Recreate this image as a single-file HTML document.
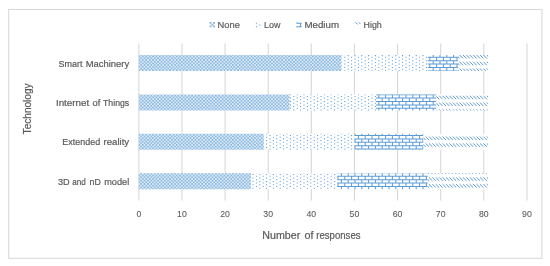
<!DOCTYPE html>
<html lang="en"><head><meta charset="utf-8"><title>Chart</title>
<style>
html,body{margin:0;padding:0;background:#fff;}
body{width:550px;height:266px;overflow:hidden;}
svg{display:block;}
text{font-family:"Liberation Sans",sans-serif;fill:#595959;stroke:#595959;stroke-width:0.2px;}
</style></head><body>
<svg width="550" height="266" viewBox="0 0 550 266">
<defs>
<pattern id="pNone" width="4" height="4" patternUnits="userSpaceOnUse" patternTransform="translate(2.57,1.3) scale(0.85)">
<rect width="4" height="4" fill="#fff"/><rect x="0" y="0" width="1.9" height="1.9" fill="#5b9bd5"/><rect x="2" y="2" width="1.9" height="1.9" fill="#5b9bd5"/></pattern>
<filter id="soft" x="-0.02" y="-0.02" width="1.04" height="1.04" color-interpolation-filters="sRGB"><feConvolveMatrix order="3" kernelMatrix="1 4 1 4 30 4 1 4 1" edgeMode="duplicate" preserveAlpha="false"/></filter>
<clipPath id="cH"><rect x="457.94" y="55.00" width="30.18" height="16.00"/><rect x="436.38" y="94.40" width="51.74" height="16.00"/><rect x="423.44" y="133.80" width="64.68" height="16.00"/><rect x="427.75" y="173.20" width="60.37" height="16.00"/><rect x="355.2" y="22.2" width="5.3" height="5.3"/></clipPath><clipPath id="cN"><rect x="138.85" y="55.00" width="202.66" height="16.00"/><rect x="138.85" y="94.40" width="150.92" height="16.00"/><rect x="138.85" y="133.80" width="125.05" height="16.00"/><rect x="138.85" y="173.20" width="112.11" height="16.00"/></clipPath>
</defs>
<rect x="0" y="0" width="550" height="266" fill="#fff"/>
<rect x="8.7" y="9.5" width="533.2" height="248.8" fill="#fff" stroke="#d9d9d9" stroke-width="1.1"/>

<line x1="138.85" y1="43.4" x2="138.85" y2="200.4" stroke="#d8d8d8" stroke-width="1.1"/>
<line x1="181.97" y1="43.4" x2="181.97" y2="200.4" stroke="#d8d8d8" stroke-width="1.1"/>
<line x1="225.09" y1="43.4" x2="225.09" y2="200.4" stroke="#d8d8d8" stroke-width="1.1"/>
<line x1="268.21" y1="43.4" x2="268.21" y2="200.4" stroke="#d8d8d8" stroke-width="1.1"/>
<line x1="311.33" y1="43.4" x2="311.33" y2="200.4" stroke="#d8d8d8" stroke-width="1.1"/>
<line x1="354.45" y1="43.4" x2="354.45" y2="200.4" stroke="#d8d8d8" stroke-width="1.1"/>
<line x1="397.57" y1="43.4" x2="397.57" y2="200.4" stroke="#d8d8d8" stroke-width="1.1"/>
<line x1="440.69" y1="43.4" x2="440.69" y2="200.4" stroke="#d8d8d8" stroke-width="1.1"/>
<line x1="483.81" y1="43.4" x2="483.81" y2="200.4" stroke="#d8d8d8" stroke-width="1.1"/>
<line x1="526.93" y1="43.4" x2="526.93" y2="200.4" stroke="#d8d8d8" stroke-width="1.1"/>
<g clip-path="url(#cN)"><rect x="136.85" y="53.00" width="206.66" height="20.00" fill="url(#pNone)" filter="url(#soft)"/></g>
<rect x="341.51" y="55.00" width="86.24" height="16.00" fill="#fff"/>
<path fill="#5b9bd5" d="M344.27 56.77h1.05v1.05h-1.05zM344.27 60.17h1.05v1.05h-1.05zM344.27 63.57h1.05v1.05h-1.05zM344.27 66.97h1.05v1.05h-1.05zM344.27 70.37h1.05v0.63h-1.05zM351.07 56.77h1.05v1.05h-1.05zM351.07 60.17h1.05v1.05h-1.05zM351.07 63.57h1.05v1.05h-1.05zM351.07 66.97h1.05v1.05h-1.05zM351.07 70.37h1.05v0.63h-1.05zM357.88 56.77h1.05v1.05h-1.05zM357.88 60.17h1.05v1.05h-1.05zM357.88 63.57h1.05v1.05h-1.05zM357.88 66.97h1.05v1.05h-1.05zM357.88 70.37h1.05v0.63h-1.05zM364.68 56.77h1.05v1.05h-1.05zM364.68 60.17h1.05v1.05h-1.05zM364.68 63.57h1.05v1.05h-1.05zM364.68 66.97h1.05v1.05h-1.05zM364.68 70.37h1.05v0.63h-1.05zM371.48 56.77h1.05v1.05h-1.05zM371.48 60.17h1.05v1.05h-1.05zM371.48 63.57h1.05v1.05h-1.05zM371.48 66.97h1.05v1.05h-1.05zM371.48 70.37h1.05v0.63h-1.05zM378.27 56.77h1.05v1.05h-1.05zM378.27 60.17h1.05v1.05h-1.05zM378.27 63.57h1.05v1.05h-1.05zM378.27 66.97h1.05v1.05h-1.05zM378.27 70.37h1.05v0.63h-1.05zM385.07 56.77h1.05v1.05h-1.05zM385.07 60.17h1.05v1.05h-1.05zM385.07 63.57h1.05v1.05h-1.05zM385.07 66.97h1.05v1.05h-1.05zM385.07 70.37h1.05v0.63h-1.05zM391.88 56.77h1.05v1.05h-1.05zM391.88 60.17h1.05v1.05h-1.05zM391.88 63.57h1.05v1.05h-1.05zM391.88 66.97h1.05v1.05h-1.05zM391.88 70.37h1.05v0.63h-1.05zM398.68 56.77h1.05v1.05h-1.05zM398.68 60.17h1.05v1.05h-1.05zM398.68 63.57h1.05v1.05h-1.05zM398.68 66.97h1.05v1.05h-1.05zM398.68 70.37h1.05v0.63h-1.05zM405.48 56.77h1.05v1.05h-1.05zM405.48 60.17h1.05v1.05h-1.05zM405.48 63.57h1.05v1.05h-1.05zM405.48 66.97h1.05v1.05h-1.05zM405.48 70.37h1.05v0.63h-1.05zM412.27 56.77h1.05v1.05h-1.05zM412.27 60.17h1.05v1.05h-1.05zM412.27 63.57h1.05v1.05h-1.05zM412.27 66.97h1.05v1.05h-1.05zM412.27 70.37h1.05v0.63h-1.05zM419.07 56.77h1.05v1.05h-1.05zM419.07 60.17h1.05v1.05h-1.05zM419.07 63.57h1.05v1.05h-1.05zM419.07 66.97h1.05v1.05h-1.05zM419.07 70.37h1.05v0.63h-1.05zM425.88 56.77h1.05v1.05h-1.05zM425.88 60.17h1.05v1.05h-1.05zM425.88 63.57h1.05v1.05h-1.05zM425.88 66.97h1.05v1.05h-1.05zM425.88 70.37h1.05v0.63h-1.05zM341.51 55.08h0.41v1.05h-0.41zM341.51 58.48h0.41v1.05h-0.41zM341.51 61.88h0.41v1.05h-0.41zM341.51 65.27h0.41v1.05h-0.41zM341.51 68.67h0.41v1.05h-0.41zM347.68 55.08h1.05v1.05h-1.05zM347.68 58.48h1.05v1.05h-1.05zM347.68 61.88h1.05v1.05h-1.05zM347.68 65.27h1.05v1.05h-1.05zM347.68 68.67h1.05v1.05h-1.05zM354.48 55.08h1.05v1.05h-1.05zM354.48 58.48h1.05v1.05h-1.05zM354.48 61.88h1.05v1.05h-1.05zM354.48 65.27h1.05v1.05h-1.05zM354.48 68.67h1.05v1.05h-1.05zM361.28 55.08h1.05v1.05h-1.05zM361.28 58.48h1.05v1.05h-1.05zM361.28 61.88h1.05v1.05h-1.05zM361.28 65.27h1.05v1.05h-1.05zM361.28 68.67h1.05v1.05h-1.05zM368.08 55.08h1.05v1.05h-1.05zM368.08 58.48h1.05v1.05h-1.05zM368.08 61.88h1.05v1.05h-1.05zM368.08 65.27h1.05v1.05h-1.05zM368.08 68.67h1.05v1.05h-1.05zM374.88 55.08h1.05v1.05h-1.05zM374.88 58.48h1.05v1.05h-1.05zM374.88 61.88h1.05v1.05h-1.05zM374.88 65.27h1.05v1.05h-1.05zM374.88 68.67h1.05v1.05h-1.05zM381.68 55.08h1.05v1.05h-1.05zM381.68 58.48h1.05v1.05h-1.05zM381.68 61.88h1.05v1.05h-1.05zM381.68 65.27h1.05v1.05h-1.05zM381.68 68.67h1.05v1.05h-1.05zM388.48 55.08h1.05v1.05h-1.05zM388.48 58.48h1.05v1.05h-1.05zM388.48 61.88h1.05v1.05h-1.05zM388.48 65.27h1.05v1.05h-1.05zM388.48 68.67h1.05v1.05h-1.05zM395.28 55.08h1.05v1.05h-1.05zM395.28 58.48h1.05v1.05h-1.05zM395.28 61.88h1.05v1.05h-1.05zM395.28 65.27h1.05v1.05h-1.05zM395.28 68.67h1.05v1.05h-1.05zM402.08 55.08h1.05v1.05h-1.05zM402.08 58.48h1.05v1.05h-1.05zM402.08 61.88h1.05v1.05h-1.05zM402.08 65.27h1.05v1.05h-1.05zM402.08 68.67h1.05v1.05h-1.05zM408.88 55.08h1.05v1.05h-1.05zM408.88 58.48h1.05v1.05h-1.05zM408.88 61.88h1.05v1.05h-1.05zM408.88 65.27h1.05v1.05h-1.05zM408.88 68.67h1.05v1.05h-1.05zM415.68 55.08h1.05v1.05h-1.05zM415.68 58.48h1.05v1.05h-1.05zM415.68 61.88h1.05v1.05h-1.05zM415.68 65.27h1.05v1.05h-1.05zM415.68 68.67h1.05v1.05h-1.05zM422.48 55.08h1.05v1.05h-1.05zM422.48 58.48h1.05v1.05h-1.05zM422.48 61.88h1.05v1.05h-1.05zM422.48 65.27h1.05v1.05h-1.05zM422.48 68.67h1.05v1.05h-1.05z"/>
<rect x="427.75" y="55.00" width="30.18" height="16.00" fill="#fff"/>
<path fill="#5b9bd5" d="M432.7 55h1v1.8h-1zM439.5 55h1v1.8h-1zM446.3 55h1v1.8h-1zM453.1 55h1v1.8h-1zM427.75 56.8h30.18v1h-30.18zM429.3 57.8h1v2.4h-1zM436.1 57.8h1v2.4h-1zM442.9 57.8h1v2.4h-1zM449.7 57.8h1v2.4h-1zM456.5 57.8h1v2.4h-1zM427.75 60.2h30.18v1h-30.18zM432.7 61.2h1v2.4h-1zM439.5 61.2h1v2.4h-1zM446.3 61.2h1v2.4h-1zM453.1 61.2h1v2.4h-1zM427.75 63.6h30.18v1h-30.18zM429.3 64.6h1v2.4h-1zM436.1 64.6h1v2.4h-1zM442.9 64.6h1v2.4h-1zM449.7 64.6h1v2.4h-1zM456.5 64.6h1v2.4h-1zM427.75 67h30.18v1h-30.18zM432.7 68h1v2.4h-1zM439.5 68h1v2.4h-1zM446.3 68h1v2.4h-1zM453.1 68h1v2.4h-1zM427.75 70.4h30.18v0.6h-30.18z"/>
<rect x="457.94" y="55.00" width="30.18" height="16.00" fill="#fff"/>
<path clip-path="url(#cH)" fill="none" stroke="#5b9bd5" stroke-width="1.0" stroke-linecap="square" d="M456.5 55.3l2.8 2.8M459.9 55.3l2.8 2.8M463.3 55.3l2.8 2.8M466.7 55.3l2.8 2.8M470.1 55.3l2.8 2.8M473.5 55.3l2.8 2.8M476.9 55.3l2.8 2.8M480.3 55.3l2.8 2.8M483.7 55.3l2.8 2.8M487.1 55.3l2.8 2.8M456.5 62.1l2.8 2.8M459.9 62.1l2.8 2.8M463.3 62.1l2.8 2.8M466.7 62.1l2.8 2.8M470.1 62.1l2.8 2.8M473.5 62.1l2.8 2.8M476.9 62.1l2.8 2.8M480.3 62.1l2.8 2.8M483.7 62.1l2.8 2.8M487.1 62.1l2.8 2.8M456.5 68.9l2.8 2.8M459.9 68.9l2.8 2.8M463.3 68.9l2.8 2.8M466.7 68.9l2.8 2.8M470.1 68.9l2.8 2.8M473.5 68.9l2.8 2.8M476.9 68.9l2.8 2.8M480.3 68.9l2.8 2.8M483.7 68.9l2.8 2.8M487.1 68.9l2.8 2.8"/>
<g clip-path="url(#cN)"><rect x="136.85" y="92.40" width="154.92" height="20.00" fill="url(#pNone)" filter="url(#soft)"/></g>
<rect x="289.77" y="94.40" width="86.24" height="16.00" fill="#fff"/>
<path fill="#5b9bd5" d="M289.88 94.4h1.05v0.82h-1.05zM289.88 97.57h1.05v1.05h-1.05zM289.88 100.97h1.05v1.05h-1.05zM289.88 104.38h1.05v1.05h-1.05zM289.88 107.77h1.05v1.05h-1.05zM296.68 94.4h1.05v0.82h-1.05zM296.68 97.57h1.05v1.05h-1.05zM296.68 100.97h1.05v1.05h-1.05zM296.68 104.38h1.05v1.05h-1.05zM296.68 107.77h1.05v1.05h-1.05zM303.48 94.4h1.05v0.82h-1.05zM303.48 97.57h1.05v1.05h-1.05zM303.48 100.97h1.05v1.05h-1.05zM303.48 104.38h1.05v1.05h-1.05zM303.48 107.77h1.05v1.05h-1.05zM310.27 94.4h1.05v0.82h-1.05zM310.27 97.57h1.05v1.05h-1.05zM310.27 100.97h1.05v1.05h-1.05zM310.27 104.38h1.05v1.05h-1.05zM310.27 107.77h1.05v1.05h-1.05zM317.07 94.4h1.05v0.82h-1.05zM317.07 97.57h1.05v1.05h-1.05zM317.07 100.97h1.05v1.05h-1.05zM317.07 104.38h1.05v1.05h-1.05zM317.07 107.77h1.05v1.05h-1.05zM323.88 94.4h1.05v0.82h-1.05zM323.88 97.57h1.05v1.05h-1.05zM323.88 100.97h1.05v1.05h-1.05zM323.88 104.38h1.05v1.05h-1.05zM323.88 107.77h1.05v1.05h-1.05zM330.68 94.4h1.05v0.82h-1.05zM330.68 97.57h1.05v1.05h-1.05zM330.68 100.97h1.05v1.05h-1.05zM330.68 104.38h1.05v1.05h-1.05zM330.68 107.77h1.05v1.05h-1.05zM337.48 94.4h1.05v0.82h-1.05zM337.48 97.57h1.05v1.05h-1.05zM337.48 100.97h1.05v1.05h-1.05zM337.48 104.38h1.05v1.05h-1.05zM337.48 107.77h1.05v1.05h-1.05zM344.27 94.4h1.05v0.82h-1.05zM344.27 97.57h1.05v1.05h-1.05zM344.27 100.97h1.05v1.05h-1.05zM344.27 104.38h1.05v1.05h-1.05zM344.27 107.77h1.05v1.05h-1.05zM351.07 94.4h1.05v0.82h-1.05zM351.07 97.57h1.05v1.05h-1.05zM351.07 100.97h1.05v1.05h-1.05zM351.07 104.38h1.05v1.05h-1.05zM351.07 107.77h1.05v1.05h-1.05zM357.88 94.4h1.05v0.82h-1.05zM357.88 97.57h1.05v1.05h-1.05zM357.88 100.97h1.05v1.05h-1.05zM357.88 104.38h1.05v1.05h-1.05zM357.88 107.77h1.05v1.05h-1.05zM364.68 94.4h1.05v0.82h-1.05zM364.68 97.57h1.05v1.05h-1.05zM364.68 100.97h1.05v1.05h-1.05zM364.68 104.38h1.05v1.05h-1.05zM364.68 107.77h1.05v1.05h-1.05zM371.48 94.4h1.05v0.82h-1.05zM371.48 97.57h1.05v1.05h-1.05zM371.48 100.97h1.05v1.05h-1.05zM371.48 104.38h1.05v1.05h-1.05zM371.48 107.77h1.05v1.05h-1.05zM293.28 95.88h1.05v1.05h-1.05zM293.28 99.27h1.05v1.05h-1.05zM293.28 102.67h1.05v1.05h-1.05zM293.28 106.07h1.05v1.05h-1.05zM293.28 109.47h1.05v0.93h-1.05zM300.08 95.88h1.05v1.05h-1.05zM300.08 99.27h1.05v1.05h-1.05zM300.08 102.67h1.05v1.05h-1.05zM300.08 106.07h1.05v1.05h-1.05zM300.08 109.47h1.05v0.93h-1.05zM306.88 95.88h1.05v1.05h-1.05zM306.88 99.27h1.05v1.05h-1.05zM306.88 102.67h1.05v1.05h-1.05zM306.88 106.07h1.05v1.05h-1.05zM306.88 109.47h1.05v0.93h-1.05zM313.68 95.88h1.05v1.05h-1.05zM313.68 99.27h1.05v1.05h-1.05zM313.68 102.67h1.05v1.05h-1.05zM313.68 106.07h1.05v1.05h-1.05zM313.68 109.47h1.05v0.93h-1.05zM320.48 95.88h1.05v1.05h-1.05zM320.48 99.27h1.05v1.05h-1.05zM320.48 102.67h1.05v1.05h-1.05zM320.48 106.07h1.05v1.05h-1.05zM320.48 109.47h1.05v0.93h-1.05zM327.28 95.88h1.05v1.05h-1.05zM327.28 99.27h1.05v1.05h-1.05zM327.28 102.67h1.05v1.05h-1.05zM327.28 106.07h1.05v1.05h-1.05zM327.28 109.47h1.05v0.93h-1.05zM334.08 95.88h1.05v1.05h-1.05zM334.08 99.27h1.05v1.05h-1.05zM334.08 102.67h1.05v1.05h-1.05zM334.08 106.07h1.05v1.05h-1.05zM334.08 109.47h1.05v0.93h-1.05zM340.88 95.88h1.05v1.05h-1.05zM340.88 99.27h1.05v1.05h-1.05zM340.88 102.67h1.05v1.05h-1.05zM340.88 106.07h1.05v1.05h-1.05zM340.88 109.47h1.05v0.93h-1.05zM347.68 95.88h1.05v1.05h-1.05zM347.68 99.27h1.05v1.05h-1.05zM347.68 102.67h1.05v1.05h-1.05zM347.68 106.07h1.05v1.05h-1.05zM347.68 109.47h1.05v0.93h-1.05zM354.48 95.88h1.05v1.05h-1.05zM354.48 99.27h1.05v1.05h-1.05zM354.48 102.67h1.05v1.05h-1.05zM354.48 106.07h1.05v1.05h-1.05zM354.48 109.47h1.05v0.93h-1.05zM361.28 95.88h1.05v1.05h-1.05zM361.28 99.27h1.05v1.05h-1.05zM361.28 102.67h1.05v1.05h-1.05zM361.28 106.07h1.05v1.05h-1.05zM361.28 109.47h1.05v0.93h-1.05zM368.08 95.88h1.05v1.05h-1.05zM368.08 99.27h1.05v1.05h-1.05zM368.08 102.67h1.05v1.05h-1.05zM368.08 106.07h1.05v1.05h-1.05zM368.08 109.47h1.05v0.93h-1.05zM374.88 95.88h1.05v1.05h-1.05zM374.88 99.27h1.05v1.05h-1.05zM374.88 102.67h1.05v1.05h-1.05zM374.88 106.07h1.05v1.05h-1.05zM374.88 109.47h1.05v0.93h-1.05z"/>
<rect x="376.01" y="94.40" width="60.37" height="16.00" fill="#fff"/>
<path fill="#5b9bd5" d="M376.01 94.4h60.37v0.8h-60.37zM378.3 95.2h1v2.4h-1zM385.1 95.2h1v2.4h-1zM391.9 95.2h1v2.4h-1zM398.7 95.2h1v2.4h-1zM405.5 95.2h1v2.4h-1zM412.3 95.2h1v2.4h-1zM419.1 95.2h1v2.4h-1zM425.9 95.2h1v2.4h-1zM432.7 95.2h1v2.4h-1zM376.01 97.6h60.37v1h-60.37zM381.7 98.6h1v2.4h-1zM388.5 98.6h1v2.4h-1zM395.3 98.6h1v2.4h-1zM402.1 98.6h1v2.4h-1zM408.9 98.6h1v2.4h-1zM415.7 98.6h1v2.4h-1zM422.5 98.6h1v2.4h-1zM429.3 98.6h1v2.4h-1zM436.1 98.6h0.28v2.4h-0.28zM376.01 101h60.37v1h-60.37zM378.3 102h1v2.4h-1zM385.1 102h1v2.4h-1zM391.9 102h1v2.4h-1zM398.7 102h1v2.4h-1zM405.5 102h1v2.4h-1zM412.3 102h1v2.4h-1zM419.1 102h1v2.4h-1zM425.9 102h1v2.4h-1zM432.7 102h1v2.4h-1zM376.01 104.4h60.37v1h-60.37zM381.7 105.4h1v2.4h-1zM388.5 105.4h1v2.4h-1zM395.3 105.4h1v2.4h-1zM402.1 105.4h1v2.4h-1zM408.9 105.4h1v2.4h-1zM415.7 105.4h1v2.4h-1zM422.5 105.4h1v2.4h-1zM429.3 105.4h1v2.4h-1zM436.1 105.4h0.28v2.4h-0.28zM376.01 107.8h60.37v1h-60.37zM378.3 108.8h1v1.6h-1zM385.1 108.8h1v1.6h-1zM391.9 108.8h1v1.6h-1zM398.7 108.8h1v1.6h-1zM405.5 108.8h1v1.6h-1zM412.3 108.8h1v1.6h-1zM419.1 108.8h1v1.6h-1zM425.9 108.8h1v1.6h-1zM432.7 108.8h1v1.6h-1z"/>
<rect x="436.38" y="94.40" width="51.74" height="16.00" fill="#fff"/>
<path clip-path="url(#cH)" fill="none" stroke="#5b9bd5" stroke-width="1.0" stroke-linecap="square" d="M436.1 96.1l2.8 2.8M439.5 96.1l2.8 2.8M442.9 96.1l2.8 2.8M446.3 96.1l2.8 2.8M449.7 96.1l2.8 2.8M453.1 96.1l2.8 2.8M456.5 96.1l2.8 2.8M459.9 96.1l2.8 2.8M463.3 96.1l2.8 2.8M466.7 96.1l2.8 2.8M470.1 96.1l2.8 2.8M473.5 96.1l2.8 2.8M476.9 96.1l2.8 2.8M480.3 96.1l2.8 2.8M483.7 96.1l2.8 2.8M487.1 96.1l2.8 2.8M436.1 102.9l2.8 2.8M439.5 102.9l2.8 2.8M442.9 102.9l2.8 2.8M446.3 102.9l2.8 2.8M449.7 102.9l2.8 2.8M453.1 102.9l2.8 2.8M456.5 102.9l2.8 2.8M459.9 102.9l2.8 2.8M463.3 102.9l2.8 2.8M466.7 102.9l2.8 2.8M470.1 102.9l2.8 2.8M473.5 102.9l2.8 2.8M476.9 102.9l2.8 2.8M480.3 102.9l2.8 2.8M483.7 102.9l2.8 2.8M487.1 102.9l2.8 2.8M436.1 109.7l2.8 2.8M439.5 109.7l2.8 2.8M442.9 109.7l2.8 2.8M446.3 109.7l2.8 2.8M449.7 109.7l2.8 2.8M453.1 109.7l2.8 2.8M456.5 109.7l2.8 2.8M459.9 109.7l2.8 2.8M463.3 109.7l2.8 2.8M466.7 109.7l2.8 2.8M470.1 109.7l2.8 2.8M473.5 109.7l2.8 2.8M476.9 109.7l2.8 2.8M480.3 109.7l2.8 2.8M483.7 109.7l2.8 2.8M487.1 109.7l2.8 2.8"/>
<g clip-path="url(#cN)"><rect x="136.85" y="131.80" width="129.05" height="20.00" fill="url(#pNone)" filter="url(#soft)"/></g>
<rect x="263.90" y="133.80" width="90.55" height="16.00" fill="#fff"/>
<path fill="#5b9bd5" d="M269.48 134.97h1.05v1.05h-1.05zM269.48 138.37h1.05v1.05h-1.05zM269.48 141.78h1.05v1.05h-1.05zM269.48 145.17h1.05v1.05h-1.05zM269.48 148.57h1.05v1.05h-1.05zM276.27 134.97h1.05v1.05h-1.05zM276.27 138.37h1.05v1.05h-1.05zM276.27 141.78h1.05v1.05h-1.05zM276.27 145.17h1.05v1.05h-1.05zM276.27 148.57h1.05v1.05h-1.05zM283.07 134.97h1.05v1.05h-1.05zM283.07 138.37h1.05v1.05h-1.05zM283.07 141.78h1.05v1.05h-1.05zM283.07 145.17h1.05v1.05h-1.05zM283.07 148.57h1.05v1.05h-1.05zM289.88 134.97h1.05v1.05h-1.05zM289.88 138.37h1.05v1.05h-1.05zM289.88 141.78h1.05v1.05h-1.05zM289.88 145.17h1.05v1.05h-1.05zM289.88 148.57h1.05v1.05h-1.05zM296.68 134.97h1.05v1.05h-1.05zM296.68 138.37h1.05v1.05h-1.05zM296.68 141.78h1.05v1.05h-1.05zM296.68 145.17h1.05v1.05h-1.05zM296.68 148.57h1.05v1.05h-1.05zM303.48 134.97h1.05v1.05h-1.05zM303.48 138.37h1.05v1.05h-1.05zM303.48 141.78h1.05v1.05h-1.05zM303.48 145.17h1.05v1.05h-1.05zM303.48 148.57h1.05v1.05h-1.05zM310.27 134.97h1.05v1.05h-1.05zM310.27 138.37h1.05v1.05h-1.05zM310.27 141.78h1.05v1.05h-1.05zM310.27 145.17h1.05v1.05h-1.05zM310.27 148.57h1.05v1.05h-1.05zM317.07 134.97h1.05v1.05h-1.05zM317.07 138.37h1.05v1.05h-1.05zM317.07 141.78h1.05v1.05h-1.05zM317.07 145.17h1.05v1.05h-1.05zM317.07 148.57h1.05v1.05h-1.05zM323.88 134.97h1.05v1.05h-1.05zM323.88 138.37h1.05v1.05h-1.05zM323.88 141.78h1.05v1.05h-1.05zM323.88 145.17h1.05v1.05h-1.05zM323.88 148.57h1.05v1.05h-1.05zM330.68 134.97h1.05v1.05h-1.05zM330.68 138.37h1.05v1.05h-1.05zM330.68 141.78h1.05v1.05h-1.05zM330.68 145.17h1.05v1.05h-1.05zM330.68 148.57h1.05v1.05h-1.05zM337.48 134.97h1.05v1.05h-1.05zM337.48 138.37h1.05v1.05h-1.05zM337.48 141.78h1.05v1.05h-1.05zM337.48 145.17h1.05v1.05h-1.05zM337.48 148.57h1.05v1.05h-1.05zM344.27 134.97h1.05v1.05h-1.05zM344.27 138.37h1.05v1.05h-1.05zM344.27 141.78h1.05v1.05h-1.05zM344.27 145.17h1.05v1.05h-1.05zM344.27 148.57h1.05v1.05h-1.05zM351.07 134.97h1.05v1.05h-1.05zM351.07 138.37h1.05v1.05h-1.05zM351.07 141.78h1.05v1.05h-1.05zM351.07 145.17h1.05v1.05h-1.05zM351.07 148.57h1.05v1.05h-1.05zM266.08 133.8h1.05v0.53h-1.05zM266.08 136.67h1.05v1.05h-1.05zM266.08 140.07h1.05v1.05h-1.05zM266.08 143.47h1.05v1.05h-1.05zM266.08 146.88h1.05v1.05h-1.05zM272.88 133.8h1.05v0.53h-1.05zM272.88 136.67h1.05v1.05h-1.05zM272.88 140.07h1.05v1.05h-1.05zM272.88 143.47h1.05v1.05h-1.05zM272.88 146.88h1.05v1.05h-1.05zM279.68 133.8h1.05v0.53h-1.05zM279.68 136.67h1.05v1.05h-1.05zM279.68 140.07h1.05v1.05h-1.05zM279.68 143.47h1.05v1.05h-1.05zM279.68 146.88h1.05v1.05h-1.05zM286.48 133.8h1.05v0.53h-1.05zM286.48 136.67h1.05v1.05h-1.05zM286.48 140.07h1.05v1.05h-1.05zM286.48 143.47h1.05v1.05h-1.05zM286.48 146.88h1.05v1.05h-1.05zM293.28 133.8h1.05v0.53h-1.05zM293.28 136.67h1.05v1.05h-1.05zM293.28 140.07h1.05v1.05h-1.05zM293.28 143.47h1.05v1.05h-1.05zM293.28 146.88h1.05v1.05h-1.05zM300.08 133.8h1.05v0.53h-1.05zM300.08 136.67h1.05v1.05h-1.05zM300.08 140.07h1.05v1.05h-1.05zM300.08 143.47h1.05v1.05h-1.05zM300.08 146.88h1.05v1.05h-1.05zM306.88 133.8h1.05v0.53h-1.05zM306.88 136.67h1.05v1.05h-1.05zM306.88 140.07h1.05v1.05h-1.05zM306.88 143.47h1.05v1.05h-1.05zM306.88 146.88h1.05v1.05h-1.05zM313.68 133.8h1.05v0.53h-1.05zM313.68 136.67h1.05v1.05h-1.05zM313.68 140.07h1.05v1.05h-1.05zM313.68 143.47h1.05v1.05h-1.05zM313.68 146.88h1.05v1.05h-1.05zM320.48 133.8h1.05v0.53h-1.05zM320.48 136.67h1.05v1.05h-1.05zM320.48 140.07h1.05v1.05h-1.05zM320.48 143.47h1.05v1.05h-1.05zM320.48 146.88h1.05v1.05h-1.05zM327.28 133.8h1.05v0.53h-1.05zM327.28 136.67h1.05v1.05h-1.05zM327.28 140.07h1.05v1.05h-1.05zM327.28 143.47h1.05v1.05h-1.05zM327.28 146.88h1.05v1.05h-1.05zM334.08 133.8h1.05v0.53h-1.05zM334.08 136.67h1.05v1.05h-1.05zM334.08 140.07h1.05v1.05h-1.05zM334.08 143.47h1.05v1.05h-1.05zM334.08 146.88h1.05v1.05h-1.05zM340.88 133.8h1.05v0.53h-1.05zM340.88 136.67h1.05v1.05h-1.05zM340.88 140.07h1.05v1.05h-1.05zM340.88 143.47h1.05v1.05h-1.05zM340.88 146.88h1.05v1.05h-1.05zM347.68 133.8h1.05v0.53h-1.05zM347.68 136.67h1.05v1.05h-1.05zM347.68 140.07h1.05v1.05h-1.05zM347.68 143.47h1.05v1.05h-1.05zM347.68 146.88h1.05v1.05h-1.05z"/>
<rect x="354.45" y="133.80" width="68.99" height="16.00" fill="#fff"/>
<path fill="#5b9bd5" d="M354.5 133.8h1v1.2h-1zM361.3 133.8h1v1.2h-1zM368.1 133.8h1v1.2h-1zM374.9 133.8h1v1.2h-1zM381.7 133.8h1v1.2h-1zM388.5 133.8h1v1.2h-1zM395.3 133.8h1v1.2h-1zM402.1 133.8h1v1.2h-1zM408.9 133.8h1v1.2h-1zM415.7 133.8h1v1.2h-1zM422.5 133.8h0.94v1.2h-0.94zM354.45 135h68.99v1h-68.99zM357.9 136h1v2.4h-1zM364.7 136h1v2.4h-1zM371.5 136h1v2.4h-1zM378.3 136h1v2.4h-1zM385.1 136h1v2.4h-1zM391.9 136h1v2.4h-1zM398.7 136h1v2.4h-1zM405.5 136h1v2.4h-1zM412.3 136h1v2.4h-1zM419.1 136h1v2.4h-1zM354.45 138.4h68.99v1h-68.99zM354.5 139.4h1v2.4h-1zM361.3 139.4h1v2.4h-1zM368.1 139.4h1v2.4h-1zM374.9 139.4h1v2.4h-1zM381.7 139.4h1v2.4h-1zM388.5 139.4h1v2.4h-1zM395.3 139.4h1v2.4h-1zM402.1 139.4h1v2.4h-1zM408.9 139.4h1v2.4h-1zM415.7 139.4h1v2.4h-1zM422.5 139.4h0.94v2.4h-0.94zM354.45 141.8h68.99v1h-68.99zM357.9 142.8h1v2.4h-1zM364.7 142.8h1v2.4h-1zM371.5 142.8h1v2.4h-1zM378.3 142.8h1v2.4h-1zM385.1 142.8h1v2.4h-1zM391.9 142.8h1v2.4h-1zM398.7 142.8h1v2.4h-1zM405.5 142.8h1v2.4h-1zM412.3 142.8h1v2.4h-1zM419.1 142.8h1v2.4h-1zM354.45 145.2h68.99v1h-68.99zM354.5 146.2h1v2.4h-1zM361.3 146.2h1v2.4h-1zM368.1 146.2h1v2.4h-1zM374.9 146.2h1v2.4h-1zM381.7 146.2h1v2.4h-1zM388.5 146.2h1v2.4h-1zM395.3 146.2h1v2.4h-1zM402.1 146.2h1v2.4h-1zM408.9 146.2h1v2.4h-1zM415.7 146.2h1v2.4h-1zM422.5 146.2h0.94v2.4h-0.94zM354.45 148.6h68.99v1h-68.99zM357.9 149.6h1v0.2h-1zM364.7 149.6h1v0.2h-1zM371.5 149.6h1v0.2h-1zM378.3 149.6h1v0.2h-1zM385.1 149.6h1v0.2h-1zM391.9 149.6h1v0.2h-1zM398.7 149.6h1v0.2h-1zM405.5 149.6h1v0.2h-1zM412.3 149.6h1v0.2h-1zM419.1 149.6h1v0.2h-1z"/>
<rect x="423.44" y="133.80" width="64.68" height="16.00" fill="#fff"/>
<path clip-path="url(#cH)" fill="none" stroke="#5b9bd5" stroke-width="1.0" stroke-linecap="square" d="M422.5 136.9l2.8 2.8M425.9 136.9l2.8 2.8M429.3 136.9l2.8 2.8M432.7 136.9l2.8 2.8M436.1 136.9l2.8 2.8M439.5 136.9l2.8 2.8M442.9 136.9l2.8 2.8M446.3 136.9l2.8 2.8M449.7 136.9l2.8 2.8M453.1 136.9l2.8 2.8M456.5 136.9l2.8 2.8M459.9 136.9l2.8 2.8M463.3 136.9l2.8 2.8M466.7 136.9l2.8 2.8M470.1 136.9l2.8 2.8M473.5 136.9l2.8 2.8M476.9 136.9l2.8 2.8M480.3 136.9l2.8 2.8M483.7 136.9l2.8 2.8M487.1 136.9l2.8 2.8M422.5 143.7l2.8 2.8M425.9 143.7l2.8 2.8M429.3 143.7l2.8 2.8M432.7 143.7l2.8 2.8M436.1 143.7l2.8 2.8M439.5 143.7l2.8 2.8M442.9 143.7l2.8 2.8M446.3 143.7l2.8 2.8M449.7 143.7l2.8 2.8M453.1 143.7l2.8 2.8M456.5 143.7l2.8 2.8M459.9 143.7l2.8 2.8M463.3 143.7l2.8 2.8M466.7 143.7l2.8 2.8M470.1 143.7l2.8 2.8M473.5 143.7l2.8 2.8M476.9 143.7l2.8 2.8M480.3 143.7l2.8 2.8M483.7 143.7l2.8 2.8M487.1 143.7l2.8 2.8"/>
<g clip-path="url(#cN)"><rect x="136.85" y="171.20" width="116.11" height="20.00" fill="url(#pNone)" filter="url(#soft)"/></g>
<rect x="250.96" y="173.20" width="86.24" height="16.00" fill="#fff"/>
<path fill="#5b9bd5" d="M255.87 173.2h1.05v0.22h-1.05zM255.87 175.78h1.05v1.05h-1.05zM255.87 179.17h1.05v1.05h-1.05zM255.87 182.57h1.05v1.05h-1.05zM255.87 185.97h1.05v1.05h-1.05zM262.68 173.2h1.05v0.22h-1.05zM262.68 175.78h1.05v1.05h-1.05zM262.68 179.17h1.05v1.05h-1.05zM262.68 182.57h1.05v1.05h-1.05zM262.68 185.97h1.05v1.05h-1.05zM269.48 173.2h1.05v0.22h-1.05zM269.48 175.78h1.05v1.05h-1.05zM269.48 179.17h1.05v1.05h-1.05zM269.48 182.57h1.05v1.05h-1.05zM269.48 185.97h1.05v1.05h-1.05zM276.27 173.2h1.05v0.22h-1.05zM276.27 175.78h1.05v1.05h-1.05zM276.27 179.17h1.05v1.05h-1.05zM276.27 182.57h1.05v1.05h-1.05zM276.27 185.97h1.05v1.05h-1.05zM283.07 173.2h1.05v0.22h-1.05zM283.07 175.78h1.05v1.05h-1.05zM283.07 179.17h1.05v1.05h-1.05zM283.07 182.57h1.05v1.05h-1.05zM283.07 185.97h1.05v1.05h-1.05zM289.88 173.2h1.05v0.22h-1.05zM289.88 175.78h1.05v1.05h-1.05zM289.88 179.17h1.05v1.05h-1.05zM289.88 182.57h1.05v1.05h-1.05zM289.88 185.97h1.05v1.05h-1.05zM296.68 173.2h1.05v0.22h-1.05zM296.68 175.78h1.05v1.05h-1.05zM296.68 179.17h1.05v1.05h-1.05zM296.68 182.57h1.05v1.05h-1.05zM296.68 185.97h1.05v1.05h-1.05zM303.48 173.2h1.05v0.22h-1.05zM303.48 175.78h1.05v1.05h-1.05zM303.48 179.17h1.05v1.05h-1.05zM303.48 182.57h1.05v1.05h-1.05zM303.48 185.97h1.05v1.05h-1.05zM310.27 173.2h1.05v0.22h-1.05zM310.27 175.78h1.05v1.05h-1.05zM310.27 179.17h1.05v1.05h-1.05zM310.27 182.57h1.05v1.05h-1.05zM310.27 185.97h1.05v1.05h-1.05zM317.07 173.2h1.05v0.22h-1.05zM317.07 175.78h1.05v1.05h-1.05zM317.07 179.17h1.05v1.05h-1.05zM317.07 182.57h1.05v1.05h-1.05zM317.07 185.97h1.05v1.05h-1.05zM323.88 173.2h1.05v0.22h-1.05zM323.88 175.78h1.05v1.05h-1.05zM323.88 179.17h1.05v1.05h-1.05zM323.88 182.57h1.05v1.05h-1.05zM323.88 185.97h1.05v1.05h-1.05zM330.68 173.2h1.05v0.22h-1.05zM330.68 175.78h1.05v1.05h-1.05zM330.68 179.17h1.05v1.05h-1.05zM330.68 182.57h1.05v1.05h-1.05zM330.68 185.97h1.05v1.05h-1.05zM252.47 174.07h1.05v1.05h-1.05zM252.47 177.47h1.05v1.05h-1.05zM252.47 180.88h1.05v1.05h-1.05zM252.47 184.27h1.05v1.05h-1.05zM252.47 187.67h1.05v1.05h-1.05zM259.28 174.07h1.05v1.05h-1.05zM259.28 177.47h1.05v1.05h-1.05zM259.28 180.88h1.05v1.05h-1.05zM259.28 184.27h1.05v1.05h-1.05zM259.28 187.67h1.05v1.05h-1.05zM266.08 174.07h1.05v1.05h-1.05zM266.08 177.47h1.05v1.05h-1.05zM266.08 180.88h1.05v1.05h-1.05zM266.08 184.27h1.05v1.05h-1.05zM266.08 187.67h1.05v1.05h-1.05zM272.88 174.07h1.05v1.05h-1.05zM272.88 177.47h1.05v1.05h-1.05zM272.88 180.88h1.05v1.05h-1.05zM272.88 184.27h1.05v1.05h-1.05zM272.88 187.67h1.05v1.05h-1.05zM279.68 174.07h1.05v1.05h-1.05zM279.68 177.47h1.05v1.05h-1.05zM279.68 180.88h1.05v1.05h-1.05zM279.68 184.27h1.05v1.05h-1.05zM279.68 187.67h1.05v1.05h-1.05zM286.48 174.07h1.05v1.05h-1.05zM286.48 177.47h1.05v1.05h-1.05zM286.48 180.88h1.05v1.05h-1.05zM286.48 184.27h1.05v1.05h-1.05zM286.48 187.67h1.05v1.05h-1.05zM293.28 174.07h1.05v1.05h-1.05zM293.28 177.47h1.05v1.05h-1.05zM293.28 180.88h1.05v1.05h-1.05zM293.28 184.27h1.05v1.05h-1.05zM293.28 187.67h1.05v1.05h-1.05zM300.08 174.07h1.05v1.05h-1.05zM300.08 177.47h1.05v1.05h-1.05zM300.08 180.88h1.05v1.05h-1.05zM300.08 184.27h1.05v1.05h-1.05zM300.08 187.67h1.05v1.05h-1.05zM306.88 174.07h1.05v1.05h-1.05zM306.88 177.47h1.05v1.05h-1.05zM306.88 180.88h1.05v1.05h-1.05zM306.88 184.27h1.05v1.05h-1.05zM306.88 187.67h1.05v1.05h-1.05zM313.68 174.07h1.05v1.05h-1.05zM313.68 177.47h1.05v1.05h-1.05zM313.68 180.88h1.05v1.05h-1.05zM313.68 184.27h1.05v1.05h-1.05zM313.68 187.67h1.05v1.05h-1.05zM320.48 174.07h1.05v1.05h-1.05zM320.48 177.47h1.05v1.05h-1.05zM320.48 180.88h1.05v1.05h-1.05zM320.48 184.27h1.05v1.05h-1.05zM320.48 187.67h1.05v1.05h-1.05zM327.28 174.07h1.05v1.05h-1.05zM327.28 177.47h1.05v1.05h-1.05zM327.28 180.88h1.05v1.05h-1.05zM327.28 184.27h1.05v1.05h-1.05zM327.28 187.67h1.05v1.05h-1.05zM334.08 174.07h1.05v1.05h-1.05zM334.08 177.47h1.05v1.05h-1.05zM334.08 180.88h1.05v1.05h-1.05zM334.08 184.27h1.05v1.05h-1.05zM334.08 187.67h1.05v1.05h-1.05z"/>
<rect x="337.20" y="173.20" width="90.55" height="16.00" fill="#fff"/>
<path fill="#5b9bd5" d="M337.2 173.2h90.55v0.2h-90.55zM340.9 173.4h1v2.4h-1zM347.7 173.4h1v2.4h-1zM354.5 173.4h1v2.4h-1zM361.3 173.4h1v2.4h-1zM368.1 173.4h1v2.4h-1zM374.9 173.4h1v2.4h-1zM381.7 173.4h1v2.4h-1zM388.5 173.4h1v2.4h-1zM395.3 173.4h1v2.4h-1zM402.1 173.4h1v2.4h-1zM408.9 173.4h1v2.4h-1zM415.7 173.4h1v2.4h-1zM422.5 173.4h1v2.4h-1zM337.2 175.8h90.55v1h-90.55zM337.5 176.8h1v2.4h-1zM344.3 176.8h1v2.4h-1zM351.1 176.8h1v2.4h-1zM357.9 176.8h1v2.4h-1zM364.7 176.8h1v2.4h-1zM371.5 176.8h1v2.4h-1zM378.3 176.8h1v2.4h-1zM385.1 176.8h1v2.4h-1zM391.9 176.8h1v2.4h-1zM398.7 176.8h1v2.4h-1zM405.5 176.8h1v2.4h-1zM412.3 176.8h1v2.4h-1zM419.1 176.8h1v2.4h-1zM425.9 176.8h1v2.4h-1zM337.2 179.2h90.55v1h-90.55zM340.9 180.2h1v2.4h-1zM347.7 180.2h1v2.4h-1zM354.5 180.2h1v2.4h-1zM361.3 180.2h1v2.4h-1zM368.1 180.2h1v2.4h-1zM374.9 180.2h1v2.4h-1zM381.7 180.2h1v2.4h-1zM388.5 180.2h1v2.4h-1zM395.3 180.2h1v2.4h-1zM402.1 180.2h1v2.4h-1zM408.9 180.2h1v2.4h-1zM415.7 180.2h1v2.4h-1zM422.5 180.2h1v2.4h-1zM337.2 182.6h90.55v1h-90.55zM337.5 183.6h1v2.4h-1zM344.3 183.6h1v2.4h-1zM351.1 183.6h1v2.4h-1zM357.9 183.6h1v2.4h-1zM364.7 183.6h1v2.4h-1zM371.5 183.6h1v2.4h-1zM378.3 183.6h1v2.4h-1zM385.1 183.6h1v2.4h-1zM391.9 183.6h1v2.4h-1zM398.7 183.6h1v2.4h-1zM405.5 183.6h1v2.4h-1zM412.3 183.6h1v2.4h-1zM419.1 183.6h1v2.4h-1zM425.9 183.6h1v2.4h-1zM337.2 186h90.55v1h-90.55zM340.9 187h1v2.2h-1zM347.7 187h1v2.2h-1zM354.5 187h1v2.2h-1zM361.3 187h1v2.2h-1zM368.1 187h1v2.2h-1zM374.9 187h1v2.2h-1zM381.7 187h1v2.2h-1zM388.5 187h1v2.2h-1zM395.3 187h1v2.2h-1zM402.1 187h1v2.2h-1zM408.9 187h1v2.2h-1zM415.7 187h1v2.2h-1zM422.5 187h1v2.2h-1z"/>
<rect x="427.75" y="173.20" width="60.37" height="16.00" fill="#fff"/>
<path clip-path="url(#cH)" fill="none" stroke="#5b9bd5" stroke-width="1.0" stroke-linecap="square" d="M425.9 170.9l2.8 2.8M429.3 170.9l2.8 2.8M432.7 170.9l2.8 2.8M436.1 170.9l2.8 2.8M439.5 170.9l2.8 2.8M442.9 170.9l2.8 2.8M446.3 170.9l2.8 2.8M449.7 170.9l2.8 2.8M453.1 170.9l2.8 2.8M456.5 170.9l2.8 2.8M459.9 170.9l2.8 2.8M463.3 170.9l2.8 2.8M466.7 170.9l2.8 2.8M470.1 170.9l2.8 2.8M473.5 170.9l2.8 2.8M476.9 170.9l2.8 2.8M480.3 170.9l2.8 2.8M483.7 170.9l2.8 2.8M487.1 170.9l2.8 2.8M425.9 177.7l2.8 2.8M429.3 177.7l2.8 2.8M432.7 177.7l2.8 2.8M436.1 177.7l2.8 2.8M439.5 177.7l2.8 2.8M442.9 177.7l2.8 2.8M446.3 177.7l2.8 2.8M449.7 177.7l2.8 2.8M453.1 177.7l2.8 2.8M456.5 177.7l2.8 2.8M459.9 177.7l2.8 2.8M463.3 177.7l2.8 2.8M466.7 177.7l2.8 2.8M470.1 177.7l2.8 2.8M473.5 177.7l2.8 2.8M476.9 177.7l2.8 2.8M480.3 177.7l2.8 2.8M483.7 177.7l2.8 2.8M487.1 177.7l2.8 2.8M425.9 184.5l2.8 2.8M429.3 184.5l2.8 2.8M432.7 184.5l2.8 2.8M436.1 184.5l2.8 2.8M439.5 184.5l2.8 2.8M442.9 184.5l2.8 2.8M446.3 184.5l2.8 2.8M449.7 184.5l2.8 2.8M453.1 184.5l2.8 2.8M456.5 184.5l2.8 2.8M459.9 184.5l2.8 2.8M463.3 184.5l2.8 2.8M466.7 184.5l2.8 2.8M470.1 184.5l2.8 2.8M473.5 184.5l2.8 2.8M476.9 184.5l2.8 2.8M480.3 184.5l2.8 2.8M483.7 184.5l2.8 2.8M487.1 184.5l2.8 2.8"/>
<text y="66.6" font-size="9.7"><tspan x="58.4" textLength="24" lengthAdjust="spacingAndGlyphs">Smart</tspan> <tspan x="85.7" textLength="43.5" lengthAdjust="spacingAndGlyphs">Machinery</tspan></text>
<text y="105.9" font-size="9.7"><tspan x="55.9" textLength="33.4" lengthAdjust="spacingAndGlyphs">Internet</tspan> <tspan x="92.5" textLength="7.8" lengthAdjust="spacingAndGlyphs">of</tspan> <tspan x="103" textLength="26.2" lengthAdjust="spacingAndGlyphs">Things</tspan></text>
<text y="145.2" font-size="9.7"><tspan x="62.3" textLength="37.95" lengthAdjust="spacingAndGlyphs">Extended</tspan> <tspan x="103.45" textLength="25.75" lengthAdjust="spacingAndGlyphs">reality</tspan></text>
<text y="184.5" font-size="9.7"><tspan x="57.9" textLength="11.7" lengthAdjust="spacingAndGlyphs">3D</tspan> <tspan x="72.2" textLength="13.5" lengthAdjust="spacingAndGlyphs">and</tspan> <tspan x="89.6" textLength="11.2" lengthAdjust="spacingAndGlyphs">nD</tspan> <tspan x="104.2" textLength="25" lengthAdjust="spacingAndGlyphs">model</tspan></text>
<text x="138.85" y="216.5" font-size="9.7" style="stroke-width:0.08px" text-anchor="middle" textLength="4.8" lengthAdjust="spacingAndGlyphs">0</text>
<text x="181.97" y="216.5" font-size="9.7" style="stroke-width:0.08px" text-anchor="middle" textLength="9.7" lengthAdjust="spacingAndGlyphs">10</text>
<text x="225.09" y="216.5" font-size="9.7" style="stroke-width:0.08px" text-anchor="middle" textLength="9.7" lengthAdjust="spacingAndGlyphs">20</text>
<text x="268.21" y="216.5" font-size="9.7" style="stroke-width:0.08px" text-anchor="middle" textLength="9.7" lengthAdjust="spacingAndGlyphs">30</text>
<text x="311.33" y="216.5" font-size="9.7" style="stroke-width:0.08px" text-anchor="middle" textLength="9.7" lengthAdjust="spacingAndGlyphs">40</text>
<text x="354.45" y="216.5" font-size="9.7" style="stroke-width:0.08px" text-anchor="middle" textLength="9.7" lengthAdjust="spacingAndGlyphs">50</text>
<text x="397.57" y="216.5" font-size="9.7" style="stroke-width:0.08px" text-anchor="middle" textLength="9.7" lengthAdjust="spacingAndGlyphs">60</text>
<text x="440.69" y="216.5" font-size="9.7" style="stroke-width:0.08px" text-anchor="middle" textLength="9.7" lengthAdjust="spacingAndGlyphs">70</text>
<text x="483.81" y="216.5" font-size="9.7" style="stroke-width:0.08px" text-anchor="middle" textLength="9.7" lengthAdjust="spacingAndGlyphs">80</text>
<text x="526.93" y="216.5" font-size="9.7" style="stroke-width:0.08px" text-anchor="middle" textLength="9.7" lengthAdjust="spacingAndGlyphs">90</text>
<text y="239.2" font-size="10.7"><tspan x="262.3" textLength="37.9" lengthAdjust="spacingAndGlyphs">Number</tspan> <tspan x="304.6" textLength="9" lengthAdjust="spacingAndGlyphs">of</tspan> <tspan x="316.3" textLength="44.2" lengthAdjust="spacingAndGlyphs">responses</tspan></text>
<text transform="translate(31,108.9) rotate(-90)" font-size="10.7" text-anchor="middle" textLength="51" lengthAdjust="spacingAndGlyphs">Technology</text>
<path fill="#5b9bd5" opacity="0.8" d="M209.7 22.1h1.75v1.75h-1.75zM209.7 25.6h1.75v1.75h-1.75zM211.45 23.85h1.75v1.75h-1.75zM213.2 22.1h1.75v1.75h-1.75zM213.2 25.6h1.75v1.75h-1.75z"/>
<text x="217.6" y="28.2" font-size="9.7" textLength="22.3" lengthAdjust="spacingAndGlyphs">None</text>
<path fill="#5b9bd5" d="M255.87 22.77h1.05v1.05h-1.05zM255.87 26.18h1.05v1.05h-1.05zM259.28 24.48h1.05v1.05h-1.05z"/>
<text x="264.0" y="28.2" font-size="9.7" textLength="16.4" lengthAdjust="spacingAndGlyphs">Low</text>
<path fill="#5b9bd5" d="M296.7 22.2h1v0.6h-1zM296.4 22.8h5.3v1h-5.3zM300.1 23.8h1v2.4h-1zM296.4 26.2h5.3v1h-5.3zM296.7 27.2h1v0.3h-1z"/>
<text x="304.5" y="28.2" font-size="9.7" textLength="34.5" lengthAdjust="spacingAndGlyphs">Medium</text>
<path clip-path="url(#cH)" fill="none" stroke="#5b9bd5" stroke-width="1.0" stroke-linecap="square" d="M354.5 21.3l2.8 2.8M357.9 21.3l2.8 2.8"/>
<text x="363.6" y="28.2" font-size="9.7" textLength="18.2" lengthAdjust="spacingAndGlyphs">High</text>
</svg></body></html>
